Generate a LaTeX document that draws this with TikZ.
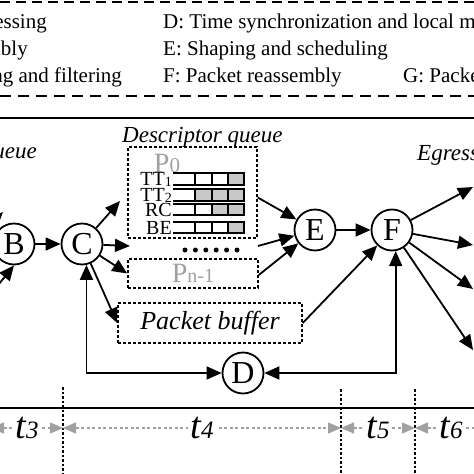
\documentclass[tikz,border=0pt]{standalone}
\usepackage{fontspec}
\setmainfont{Liberation Serif}
\usetikzlibrary{arrows.meta}
\definecolor{lblgray}{HTML}{A0A0A0}
\definecolor{cellgray}{HTML}{C8C8C8}
\tikzset{
  stage/.style={circle,draw,line width=1.8pt,minimum size=41pt,inner sep=0pt,font=\fontsize{32}{32}\selectfont},
  qbox/.style={draw,line width=1.5pt,dash pattern=on 3pt off 2pt,inner sep=0pt},
  arr/.style={line width=1.8pt,-{Triangle[length=15pt,width=13pt]}},
  biarr/.style={line width=1.8pt,{Triangle[length=15pt,width=13pt]}-{Triangle[length=15pt,width=13pt]}},
  tarr/.style={lblgray,line width=1.5pt,dash pattern=on 3pt off 2.5pt,{Triangle[length=13pt,width=11pt]}-{Triangle[length=13pt,width=11pt]}},
  lgd/.style={inner sep=0pt,font=\fontsize{21}{21}\selectfont},
  qtitle/.style={inner sep=0pt,font=\fontsize{23}{23}\selectfont\itshape},
  rowlab/.style={inner sep=0pt,anchor=east,font=\fontsize{20}{20}\selectfont},
}
\newcommand{\tlab}[1]{{\fontsize{38}{38}\selectfont\itshape t}{\fontsize{25}{25}\selectfont\itshape #1}}
\newcommand{\sm}[1]{{\fontsize{14}{14}\selectfont\raisebox{-1pt}{#1}}}

\begin{document}
\begin{tikzpicture}[x=1pt,y=-1pt]
\useasboundingbox (0,0) rectangle (474,474);
\clip (0,0) rectangle (474,474);

% legend
\draw[line width=1.6pt,dash pattern=on 10pt off 6pt] (0,2) -- (474,2);
\draw[line width=1.6pt,dash pattern=on 11pt off 7pt] (0,96) -- (474,96);
\node[lgd,anchor=base east] (lgdA) at (47,28) {A: Packet preprocessing};
\node[lgd,anchor=base east] (lgdB) at (28,55) {B: Packet disassembly};
\node[lgd,anchor=base east] (lgdC) at (122,82) {C: Packet classifying and filtering};
\node[lgd,anchor=base west] (lgdD) at (163,28) {D: Time synchronization and local management};
\node[lgd,anchor=base west] (lgdE) at (163,55) {E: Shaping and scheduling};
\node[lgd,anchor=base west] (lgdF) at (163,82) {F: Packet reassembly};
\node[lgd,anchor=base west] (lgdG) at (403,82) {G: Packet transmission};
\draw[line width=1.6pt] (0,118) -- (474,118);

% stages
\node[stage] (B) at (14,244) {B};
\node[stage] (C) at (82,244) {C};
\node[stage] (E) at (315,230) {E};
\node[stage] (F) at (392,230) {F};
\node[stage] (D) at (243,373) {D};

% queues
\node[qtitle,anchor=base east] (ingq) at (37,158) {Ingress queue};
\node[qtitle,anchor=base west] (egq) at (417,160) {Egress queue};
\node[qtitle,anchor=base west] (descq) at (122,142) {Descriptor queue};
\node[qbox,minimum width=129pt,minimum height=91pt] (p0) at (192.5,192.5) {};
\node[qbox,minimum width=130pt,minimum height=29pt,text=lblgray,font=\fontsize{28}{28}\selectfont] (pn) at (193,273.5) {P{\fontsize{20}{20}\selectfont n-1}};
\node[qbox,minimum width=184pt,minimum height=40pt,font=\fontsize{26}{26}\selectfont\itshape] (buf) at (210,323) {Packet buffer};
\node[inner sep=0pt,text=lblgray,font=\fontsize{28}{28}\selectfont] (p0lab) at (167,163) {P{\fontsize{21}{21}\selectfont 0}};

\node[rowlab] (tt1) at (172,179) {TT\sm{1}};
\node[rowlab] (tt2) at (172,195) {TT\sm{2}};
\node[rowlab] (rc) at (172,209.5) {RC};
\node[rowlab] (be) at (172,227.5) {BE};
\foreach \yt/\yb/\g in {173/185/228, 189/201/195, 204/215/212, 222/233/228} {
  \fill[cellgray] (\g,\yt) rectangle (244,\yb);
  \draw[line width=1.7pt] (173,\yt) -- (244,\yt) -- (244,\yb) -- (173,\yb);
  \foreach \x in {195,212,228} \draw[line width=1.7pt] (\x,\yt) -- (\x,\yb);
}
\foreach \x in {185,195.4,205.8,216.2,226.6,237} \fill (\x,250) circle (2.5pt);

% connectors
\coordinate (ain1) at (-25,240);
\coordinate (aout1) at (3,212);
\coordinate (ain2) at (-14,300);
\coordinate (q0in) at (120,201);
\coordinate (qmin) at (130,246);
\coordinate (qmout) at (258,246);
\coordinate (eq1) at (473,187);
\coordinate (eq2) at (473,245);
\coordinate (eq3) at (473,289);
\coordinate (eq4) at (473,350);

\draw[arr] (ain1) -- (aout1);
\draw[arr] (ain2) -- (B.south);
\draw[arr] (B) -- (C);
\draw[arr] (C) -- (q0in);
\draw[arr] (C) -- (qmin);
\draw[arr] (C) -- (pn.west);
\draw[arr] (C) -- (buf.west);
\draw[arr] ([yshift=-5pt]p0.east) -- (E);
\draw[arr] (qmout) -- (E);
\draw[arr] ([yshift=-1.5pt]pn.east) -- (E);
\draw[arr] (E) -- (F);
\draw[arr] (buf.east) -- (F);
\draw[biarr] (C.-78) |- (D);
\draw[biarr] (F.-80) |- (D);
\draw[arr] (F) -- (eq1);
\draw[arr] (F) -- (eq2);
\draw[arr] (F) -- (eq3);
\draw[arr] (F) -- (eq4);

% timeline
\draw[line width=1.6pt] (0,408) -- (474,408);
\foreach \x/\y in {63/387, 341/389, 415/389}
  \draw[line width=1.3pt,dash pattern=on 2.5pt off 2pt] (\x,\y) -- (\x,474);
\coordinate (ts0) at (-9,428);
\coordinate (ts1) at (63,428);
\coordinate (ts2) at (341,428);
\coordinate (ts3) at (415,428);
\coordinate (ts4) at (487,428);
\draw[tarr] (ts0) -- (ts1);
\draw[tarr] (ts1) -- (ts2);
\draw[tarr] (ts2) -- (ts3);
\draw[tarr] (ts3) -- (ts4);
\node[fill=white,inner xsep=2pt,inner ysep=0pt] (t3) at (27,428) {\tlab{3}};
\node[fill=white,inner xsep=2pt,inner ysep=0pt] (t4) at (202,428) {\tlab{4}};
\node[fill=white,inner xsep=2pt,inner ysep=0pt] (t5) at (378,428) {\tlab{5}};
\node[fill=white,inner xsep=2pt,inner ysep=0pt] (t6) at (451,428) {\tlab{6}};
\end{tikzpicture}
\end{document}
